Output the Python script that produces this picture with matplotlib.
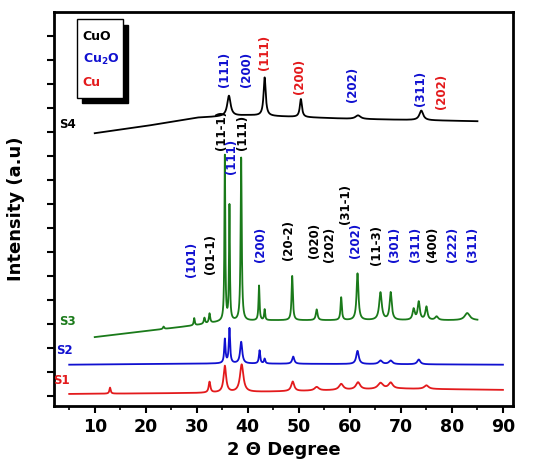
import numpy as np
import matplotlib
matplotlib.use("Agg")
import matplotlib.pyplot as plt
from matplotlib.patches import Rectangle

# Baseline anchors (2theta, intensity) and peaks (position, height above baseline, half-width)
s1_base_x = [5, 30, 50, 70, 90]
s1_base_y = [0.08, 0.12, 0.2, 0.3, 0.25]
s1_peaks = [(13.0, 0.25, 0.15), (32.5, 0.45, 0.2), (35.5, 1.1, 0.3), (38.8, 1.15, 0.4),
            (48.8, 0.4, 0.35), (53.5, 0.15, 0.5), (58.3, 0.25, 0.5), (61.6, 0.3, 0.5),
            (66.0, 0.25, 0.6), (68.0, 0.25, 0.5), (75.0, 0.15, 0.5)]

s2_base_x = [5, 35, 90]
s2_base_y = [1.3, 1.35, 1.3]
s2_peaks = [(35.5, 1.0, 0.15), (36.4, 1.45, 0.15), (38.7, 0.9, 0.25), (42.3, 0.55, 0.15),
            (43.3, 0.2, 0.15), (48.9, 0.3, 0.25), (61.5, 0.55, 0.3), (66.0, 0.15, 0.4),
            (68.0, 0.15, 0.4), (73.5, 0.2, 0.35)]

s3_base_x = [10, 20, 30, 35, 45, 85]
s3_base_y = [2.45, 2.7, 2.95, 3.1, 3.15, 3.15]
s3_peaks = [(23.5, 0.1, 0.15), (29.5, 0.3, 0.12), (31.5, 0.25, 0.15), (32.5, 0.4, 0.15),
            (35.5, 6.9, 0.1), (36.4, 4.8, 0.1), (38.7, 6.8, 0.13), (42.2, 1.45, 0.12),
            (43.3, 0.45, 0.12), (48.7, 1.85, 0.15), (53.5, 0.45, 0.2), (58.3, 0.95, 0.15),
            (61.5, 1.95, 0.22), (66.0, 1.15, 0.3), (68.0, 1.15, 0.25), (72.5, 0.45, 0.25),
            (73.5, 0.75, 0.25), (75.0, 0.55, 0.25), (77.0, 0.15, 0.35), (83.0, 0.3, 0.6)]

s4_base_x = [10, 20, 30, 40, 60, 85]
s4_base_y = [10.95, 11.25, 11.6, 11.7, 11.55, 11.45]
s4_peaks = [(36.3, 0.85, 0.4), (43.3, 1.6, 0.25), (50.4, 0.75, 0.25), (61.6, 0.15, 0.6),
            (74.0, 0.4, 0.45)]

sample_names = ["S1", "S2", "S3", "S4"]
sample_colors = ["#e31a1c", "#1010d0", "#1a7a1a", "black"]

# annotations: (text, 2theta, y, colour)
labels = [
    ("(111)", 35.5, 13.6, "#1010d0"), ("(200)", 39.8, 13.6, "#1010d0"),
    ("(111)", 43.3, 14.3, "#e31a1c"), ("(200)", 50.2, 13.3, "#e31a1c"),
    ("(202)", 60.6, 13.0, "#1010d0"), ("(311)", 73.9, 12.8, "#1010d0"),
    ("(202)", 78.0, 12.7, "#e31a1c"),
    ("(11-1)", 34.9, 11.1, "black"), ("(111)", 36.9, 10.0, "#1010d0"),
    ("(111)", 39.0, 11.0, "black"), ("(31-1)", 59.2, 8.0, "black"),
    ("(101)", 29.0, 5.67, "#1010d0"), ("(01-1)", 32.7, 5.9, "black"),
    ("(200)", 42.5, 6.3, "#1010d0"), ("(20-2)", 47.9, 6.5, "black"),
    ("(020)", 53.1, 6.5, "black"), ("(202)", 56.1, 6.3, "black"),
    ("(202)", 61.2, 6.5, "#1010d0"), ("(11-3)", 65.2, 6.3, "black"),
    ("(301)", 68.8, 6.3, "#1010d0"), ("(311)", 72.8, 6.3, "#1010d0"),
    ("(400)", 76.1, 6.3, "black"), ("(222)", 80.2, 6.3, "#1010d0"),
    ("(311)", 84.1, 6.3, "#1010d0"),
]


def pattern(x0, x1, bx, by, peaks):
    x = np.linspace(x0, x1, 5000)
    y = np.interp(x, bx, by)
    for c, h, w in peaks:
        y = y + h / (1 + ((x - c) / w) ** 2)
    return x, y


plt.rcParams['font.family'] = ['DejaVu Sans']
fig = plt.figure(figsize=(5.5, 4.65), dpi=100)
ax = fig.add_axes([0.098, 0.127, 0.835, 0.847])

data = [(5, 90, s1_base_x, s1_base_y, s1_peaks), (5, 90, s2_base_x, s2_base_y, s2_peaks),
        (10, 85, s3_base_x, s3_base_y, s3_peaks), (10, 85, s4_base_x, s4_base_y, s4_peaks)]
for (x0, x1, bx, by, pk), col in zip(data, sample_colors):
    x, y = pattern(x0, x1, bx, by, pk)
    ax.plot(x, y, color=col, lw=1.3)

name_pos = [(3.5, 0.65), (4.1, 1.9), (4.7, 3.1), (4.7, 11.3)]
for n, (px, py), col in zip(sample_names, name_pos, sample_colors):
    ax.text(px, py, n, color=col, fontsize=8.5, fontweight='bold', ha='center', va='center')

for t, px, py, col in labels:
    ax.text(px, py, t, color=col, fontsize=8.5, fontweight='bold', rotation=90,
            ha='center', va='center')

ax.set_xlim(2, 92)
ax.set_ylim(-0.42, 16)
ax.set_xticks(range(10, 91, 10))
ax.set_xticks(range(5, 91, 5), minor=True)
ax.set_yticks(range(0, 16))
ax.set_yticklabels([])
ax.tick_params(axis='both', which='major', width=1.5, length=5, labelsize=12.5)
ax.tick_params(axis='x', which='minor', width=1.2, length=3)
for lab in ax.get_xticklabels():
    lab.set_fontweight('bold')
for s in ax.spines.values():
    s.set_linewidth(2)
ax.set_xlabel("2 Θ Degree", fontsize=13, fontweight='bold')
ax.set_ylabel("Intensity (a.u)", fontsize=13, fontweight='bold', labelpad=12)

# legend box with shadow
ax.add_patch(Rectangle((0.061, 0.768), 0.1, 0.2, transform=ax.transAxes, color='black', zorder=4))
ax.add_patch(Rectangle((0.05, 0.782), 0.1, 0.2, transform=ax.transAxes, facecolor='white',
                       edgecolor='black', lw=1, zorder=5))
ax.text(0.063, 0.937, "CuO", transform=ax.transAxes, fontsize=9, fontweight='bold',
        color='black', va='center', zorder=6)
ax.text(0.063, 0.881, "Cu$_{\\mathbf{2}}$O", transform=ax.transAxes, fontsize=9, fontweight='bold',
        color='#1010d0', va='center', zorder=6)
ax.text(0.063, 0.822, "Cu", transform=ax.transAxes, fontsize=9, fontweight='bold',
        color='#e31a1c', va='center', zorder=6)

fig.savefig("out.png", dpi=100)
